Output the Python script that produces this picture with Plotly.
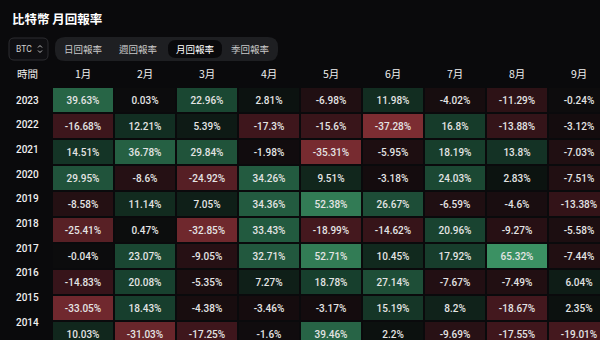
import plotly.graph_objects as go

# Bitcoin monthly returns (%), newest year first, January..September
years = ["2023", "2022", "2021", "2020", "2019", "2018", "2017", "2016", "2015", "2014"]
months = ["1月", "2月", "3月", "4月", "5月", "6月", "7月", "8月", "9月"]
r2023 = [39.63, 0.03, 22.96, 2.81, -6.98, 11.98, -4.02, -11.29, -0.24]
r2022 = [-16.68, 12.21, 5.39, -17.3, -15.6, -37.28, 16.8, -13.88, -3.12]
r2021 = [14.51, 36.78, 29.84, -1.98, -35.31, -5.95, 18.19, 13.8, -7.03]
r2020 = [29.95, -8.6, -24.92, 34.26, 9.51, -3.18, 24.03, 2.83, -7.51]
r2019 = [-8.58, 11.14, 7.05, 34.36, 52.38, 26.67, -6.59, -4.6, -13.38]
r2018 = [-25.41, 0.47, -32.85, 33.43, -18.99, -14.62, 20.96, -9.27, -5.58]
r2017 = [-0.04, 23.07, -9.05, 32.71, 52.71, 10.45, 17.92, 65.32, -7.44]
r2016 = [-14.83, 20.08, -5.35, 7.27, 18.78, 27.14, -7.67, -7.49, 6.04]
r2015 = [-33.05, 18.43, -4.38, -3.46, -3.17, 15.19, 8.2, -18.67, 2.35]
r2014 = [10.03, -31.03, -17.25, -1.6, 39.46, 2.2, -9.69, -17.55, -19.01]
tabs = ["日回報率", "週回報率", "月回報率", "季回報率"]
active_tab = "月回報率"

rows = [r2023, r2022, r2021, r2020, r2019, r2018, r2017, r2016, r2015, r2014]
labels = [[f"{v:g}%" for v in row] for row in rows]

W, H = 600, 340
L, T = 52, 87          # plot area left / top in px
PW, PH = W - L, H - T  # plot area size
COL, ROW = 62, 26      # cell pitch in px

BG = "#0a0a0c"
FONT = "Roboto, 'Noto Sans CJK TC', sans-serif"
CJK = "'Noto Sans CJK TC', 'Noto Sans CJK SC', sans-serif"


def px(x):
    return (x - L) / PW


def py(y):
    return (H - y) / PH


def rounded(x0, y0, x1, y1, r):
    """Rounded rectangle path (pixel input) in paper coordinates."""
    pts = [
        f"M{px(x0 + r)},{py(y0)}",
        f"L{px(x1 - r)},{py(y0)}",
        f"Q{px(x1)},{py(y0)} {px(x1)},{py(y0 + r)}",
        f"L{px(x1)},{py(y1 - r)}",
        f"Q{px(x1)},{py(y1)} {px(x1 - r)},{py(y1)}",
        f"L{px(x0 + r)},{py(y1)}",
        f"Q{px(x0)},{py(y1)} {px(x0)},{py(y1 - r)}",
        f"L{px(x0)},{py(y0 + r)}",
        f"Q{px(x0)},{py(y0)} {px(x0 + r)},{py(y0)}",
        "Z",
    ]
    return " ".join(pts)


colorscale = [
    [0.0, "rgb(150,52,58)"],
    [0.22, "rgb(124,45,50)"],
    [0.37, "rgb(62,22,28)"],
    [0.477, "rgb(20,12,14)"],
    [0.5, "rgb(12,12,13)"],
    [0.523, "rgb(12,19,16)"],
    [0.63, "rgb(22,60,43)"],
    [0.78, "rgb(37,96,67)"],
    [0.9, "rgb(50,124,85)"],
    [1.0, "rgb(60,146,100)"],
]

fig = go.Figure(
    go.Heatmap(
        z=rows,
        x=list(range(len(months))),
        y=list(range(len(years))),
        text=labels,
        texttemplate="%{text}",
        textfont=dict(family=FONT, size=10, color="#e4e4e4", weight=500),
        colorscale=colorscale,
        zmin=-66,
        zmax=66,
        showscale=False,
        xgap=2,
        ygap=2,
        hoverinfo="skip",
    )
)

ann = []
# title
ann.append(dict(xref="paper", yref="paper", x=px(10), y=py(18), xanchor="left", yanchor="middle",
                text="<b>比特幣 月回報率</b>", showarrow=False,
                font=dict(family=CJK, size=12.5, color="#ffffff")))
# header row
ann.append(dict(xref="paper", yref="paper", x=px(27), y=py(73), xanchor="center", yanchor="middle",
                text="時間", showarrow=False, font=dict(family=CJK, size=10.5, color="#f0f0f0")))
for i, m in enumerate(months):
    ann.append(dict(xref="x", yref="paper", x=i, y=py(73), xanchor="center", yanchor="middle",
                    text=m, showarrow=False, font=dict(family=CJK, size=10.5, color="#f0f0f0")))
# year labels
for i, yr in enumerate(years):
    ann.append(dict(xref="paper", yref="y", x=px(27), y=i * 0.95, xanchor="center", yanchor="middle",
                    text=yr, showarrow=False, font=dict(family=FONT, size=10, color="#f0f0f0", weight=500)))

shapes = []
# coin selector
shapes.append(dict(type="path", xref="paper", yref="paper", path=rounded(9, 38, 48, 60, 5),
                   fillcolor="#0f0f12", line=dict(color="#2c2c30", width=1), layer="above"))
ann.append(dict(xref="paper", yref="paper", x=px(14), y=py(49), xanchor="left", yanchor="middle",
                text="BTC", showarrow=False, font=dict(family=FONT, size=8.5, color="#cfcfcf")))
for p in (f"M{px(38)},{py(47.5)} L{px(40)},{py(45.5)} L{px(42)},{py(47.5)}",
          f"M{px(38)},{py(50.5)} L{px(40)},{py(52.5)} L{px(42)},{py(50.5)}"):
    shapes.append(dict(type="path", xref="paper", yref="paper", path=p,
                       line=dict(color="#bdbdbd", width=1), layer="above"))
# tab bar
shapes.append(dict(type="path", xref="paper", yref="paper", path=rounded(55, 37, 278, 61, 10),
                   fillcolor="#1e1f22", line=dict(width=0), layer="above"))
tab_x = [83, 138, 195, 250]
for t, cx in zip(tabs, tab_x):
    if t == active_tab:
        shapes.append(dict(type="path", xref="paper", yref="paper",
                           path=rounded(cx - 27, 40, cx + 27, 58, 8),
                           fillcolor="#09090b", line=dict(width=0), layer="above"))
    ann.append(dict(xref="paper", yref="paper", x=px(cx), y=py(49), xanchor="center", yanchor="middle",
                    text=t, showarrow=False,
                    font=dict(family=CJK, size=9.5, color="#ffffff" if t == active_tab else "#c8c8c8")))

fig.update_layout(
    width=W,
    height=H,
    margin=dict(l=L, r=0, t=T, b=0),
    paper_bgcolor=BG,
    plot_bgcolor=BG,
    xaxis=dict(range=[-0.5, -0.5 + PW / COL], showticklabels=False, showgrid=False,
               zeroline=False, fixedrange=True),
    yaxis=dict(range=[-0.5 + PH / ROW, -0.5], showticklabels=False, showgrid=False,
               zeroline=False, fixedrange=True),
    annotations=ann,
    shapes=shapes,
)

fig.write_html("out.html")
